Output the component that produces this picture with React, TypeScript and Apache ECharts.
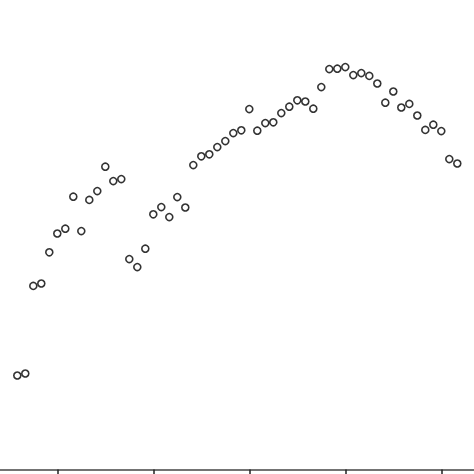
import React, { useEffect, useRef } from 'react';
import * as echarts from 'echarts';

// sample index along the bottom axis
const xValues: number[] = Array.from({ length: 56 }, (_, i) => i);

// tick positions on the bottom axis (every 12 samples)
const tickValues: number[] = [5, 17, 29, 41, 53];

// y values
const yValues: number[] = [
  23.5, 24.0, 45.9, 46.5, 54.3, 59.0, 60.2, 68.2, 59.6, 67.4,
  69.6, 75.7, 72.1, 72.6, 52.6, 50.6, 55.2, 63.8, 65.6, 63.1,
  68.1, 65.5, 76.1, 78.3, 78.8, 80.6, 82.1, 84.1, 84.8, 90.1,
  84.7, 86.6, 86.8, 89.1, 90.7, 92.3, 92.0, 90.2, 95.6, 100.1,
  100.2, 100.6, 98.6, 99.1, 98.4, 96.5, 91.7, 94.5, 90.5, 91.4,
  88.5, 84.9, 86.2, 84.6, 77.6, 76.5
];

const App: React.FC = () => {
  const chartRef = useRef<HTMLDivElement>(null);

  useEffect(() => {
    if (!chartRef.current) return;
    const chart = echarts.init(chartRef.current, undefined, { renderer: 'svg' });

    const option: echarts.EChartsOption = {
      animation: false,
      backgroundColor: '#ffffff',
      grid: {
        left: 0,
        right: 0,
        top: 0,
        bottom: 4.5
      },
      xAxis: {
        type: 'value',
        min: -2.1625,
        max: 57.0875,
        axisLine: { show: true, lineStyle: { color: '#444', width: 1.5 } },
        axisTick: {
          show: true,
          inside: false,
          length: 8,
          customValues: tickValues,
          lineStyle: { color: '#222', width: 1.5 }
        },
        axisLabel: { show: false },
        splitLine: { show: false }
      },
      yAxis: {
        type: 'value',
        min: 0,
        max: 117.375,
        axisLine: { show: false },
        axisTick: { show: false },
        axisLabel: { show: false },
        splitLine: { show: false }
      },
      series: [
        {
          type: 'scatter',
          symbol: 'circle',
          symbolSize: 7,
          data: xValues.map((x, i) => [x, yValues[i]]),
          itemStyle: {
            color: '#ffffff',
            borderColor: '#000',
            borderWidth: 1.6
          }
        }
      ]
    };

    chart.setOption(option as any);
    return () => {
      chart.dispose();
    };
  }, []);

  return (
    <div
      ref={chartRef}
      style={{ position: 'fixed', left: 0, top: 0, width: 474, height: 474 }}
    />
  );
};

export default App;
